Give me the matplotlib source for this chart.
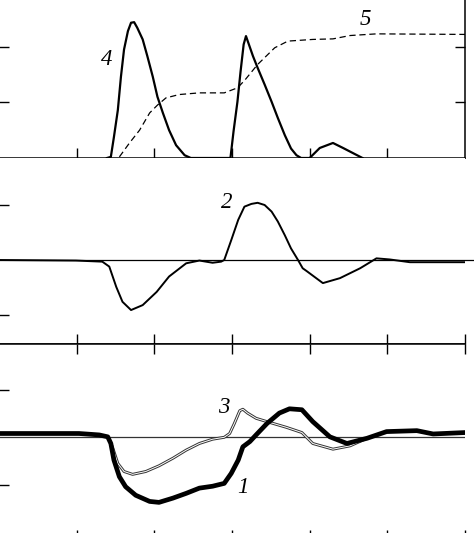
import numpy as np
import matplotlib
matplotlib.use('Agg')
import matplotlib.pyplot as plt

# --- data (x in tick units, y in tick units) ---
# top panel: curve 4 (solid peaks), curve 5 (dashed cumulative)
x4 = [1.39, 1.44, 1.48, 1.53, 1.57, 1.61, 1.66, 1.70, 1.74, 1.78, 1.85, 1.91,
      1.98, 2.04, 2.11, 2.19, 2.28, 2.39, 2.47,
      2.98, 3.02, 3.07, 3.11, 3.15, 3.18, 3.21, 3.27, 3.33, 3.42, 3.51, 3.59,
      3.68, 3.76, 3.83, 3.89,
      4.00, 4.13, 4.30, 4.43, 4.68]
y4 = [0.0, 0.02, 0.38, 0.86, 1.46, 1.95, 2.28, 2.43, 2.44, 2.34, 2.13, 1.83,
      1.46, 1.10, 0.81, 0.50, 0.23, 0.05, 0.0,
      0.0, 0.48, 1.01, 1.55, 2.04, 2.19, 2.07, 1.83, 1.62, 1.32, 1.01, 0.72,
      0.41, 0.17, 0.05, 0.0,
      0.0, 0.18, 0.27, 0.18, 0.0]
x5 = [1.55, 1.68, 1.81, 1.94, 2.04, 2.15, 2.32, 2.58, 2.90, 3.07, 3.16, 3.33,
      3.55, 3.72, 4.04, 4.30, 4.52, 4.86, 6.0]
y5 = [0.02, 0.27, 0.50, 0.81, 0.95, 1.08, 1.14, 1.17, 1.17, 1.26, 1.39, 1.68,
      1.98, 2.10, 2.13, 2.14, 2.20, 2.23, 2.22]

# middle panel: curve 2
x2 = [0, 0.99, 1.33, 1.42, 1.51, 1.59, 1.70, 1.85, 2.03, 2.19, 2.41, 2.58, 2.75,
      2.86, 2.90, 2.99, 3.08, 3.16, 3.25, 3.33, 3.42, 3.51, 3.59, 3.68, 3.76,
      3.85, 3.91, 3.96, 4.17, 4.39, 4.65, 4.86, 5.03, 5.29, 6.0]
y2 = [0, -0.01, -0.03, -0.12, -0.49, -0.76, -0.91, -0.82, -0.58, -0.30, -0.06,
      -0.01, -0.05, -0.03, 0.0, 0.36, 0.73, 0.97, 1.02, 1.04, 1.0, 0.88, 0.70,
      0.45, 0.21, 0.0, -0.15, -0.20, -0.42, -0.33, -0.15, 0.03, 0.01, -0.04,
      -0.04]

# bottom panel: curve 1 (thick), curve 3 (double line)
x1 = [0, 1.03, 1.29, 1.40, 1.44, 1.48, 1.55, 1.63, 1.76, 1.94, 2.06, 2.24, 2.41,
      2.58, 2.75, 2.90, 2.99, 3.08, 3.14, 3.23, 3.31, 3.45, 3.61, 3.74, 3.90,
      4.04, 4.26, 4.48, 4.74, 4.99, 5.38, 5.59, 6.0]
y1 = [0.08, 0.08, 0.05, 0.01, -0.13, -0.48, -0.83, -1.04, -1.22, -1.35, -1.37,
      -1.28, -1.18, -1.07, -1.03, -0.97, -0.76, -0.48, -0.20, -0.09, 0.05, 0.29,
      0.51, 0.60, 0.58, 0.33, 0.01, -0.13, -0.02, 0.12, 0.14, 0.07, 0.10]
x3 = [0, 1.03, 1.29, 1.40, 1.46, 1.53, 1.61, 1.72, 1.89, 2.06, 2.24, 2.41, 2.58,
      2.75, 2.90, 2.97, 3.03, 3.10, 3.14, 3.20, 3.31, 3.45, 3.70, 3.90, 4.04,
      4.30, 4.52, 4.74, 4.99, 5.38, 5.59, 6.0]
y3 = [0.08, 0.08, 0.05, 0.01, -0.20, -0.55, -0.72, -0.78, -0.72, -0.60, -0.44,
      -0.27, -0.13, -0.04, 0.0, 0.08, 0.29, 0.56, 0.59, 0.51, 0.40, 0.33, 0.21,
      0.10, -0.13, -0.25, -0.18, -0.02, 0.12, 0.14, 0.07, 0.10]

xticks = [1, 2, 3, 4, 5, 6]
yticks = [-1, 1]
yticks_top = [1, 2]

W, H = 474, 533
fig = plt.figure(figsize=(W / 100, H / 100), dpi=100)

def frac(left_px, top_px, right_px, bottom_px):
    return [left_px / W, (H - bottom_px) / H, (right_px - left_px) / W,
            (bottom_px - top_px) / H]

label_font = dict(family='Liberation Serif', style='italic', fontsize=16.5)
tick_kw = dict(direction='in', length=7, width=1.0, color='black')

# top panel
ax_top = fig.add_axes(frac(-1, -9, 465, 158))
ax_top.plot(x4, y4, color='black', lw=1.6)
ax_top.plot(x5, y5, color='black', lw=0.9, ls=(0, (5, 3)))
ax_top.set_xlim(0, 6)
ax_top.set_ylim(0, 3)
ax_top.set_xticks(xticks[:-1])
ax_top.set_yticks(yticks_top)
ax_top.tick_params(axis='x', **tick_kw)
ax_top.tick_params(axis='y', left=True, right=True, **tick_kw)
ax_top.spines['top'].set_visible(False)
ax_top.spines['left'].set_visible(False)
ax_top.text(1.39, 1.77, '4', ha='center', va='center', **label_font)
ax_top.text(4.72, 2.49, '5', ha='center', va='center', **label_font)

# middle panel
ax_mid = fig.add_axes(frac(-1, 158, 465, 344))
ax_mid.plot([0, 6.1], [0, 0], color='black', lw=0.9, clip_on=False)
ax_mid.plot(x2, y2, color='black', lw=1.4)
ax_mid.set_xlim(0, 6)
ax_mid.set_ylim(-(344 - 260) / 55, (260 - 158) / 55)
ax_mid.set_xticks(xticks)
ax_mid.set_yticks(yticks)
ax_mid.tick_params(axis='x', **tick_kw)
ax_mid.tick_params(axis='y', **tick_kw)
for s in ['top', 'left', 'right']:
    ax_mid.spines[s].set_visible(False)
ax_mid.text(2.93, 1.05, '2', ha='center', va='center', **label_font)

# bottom panel
ax_bot = fig.add_axes(frac(-1, 344, 465, 540))
ax_bot.plot([0, 6], [0, 0], color='#333333', lw=0.9)
ax_bot.plot(x3, y3, color='#333333', lw=2.1, solid_capstyle='round')
ax_bot.plot(x3, y3, color='white', lw=0.7)
ax_bot.plot(x1, y1, color='black', lw=3.4)
ax_bot.set_xlim(0, 6)
ax_bot.set_ylim(-(540 - 437.3) / 47.5, (437.3 - 344) / 47.5)
ax_bot.set_xticks(xticks)
ax_bot.set_yticks(yticks)
ax_bot.tick_params(axis='x', top=True, bottom=True, **tick_kw)
ax_bot.tick_params(axis='y', **tick_kw)
ax_bot.spines['right'].set_visible(False)
ax_bot.text(2.90, 0.62, '3', ha='center', va='center', **label_font)
ax_bot.text(3.14, -1.05, '1', ha='center', va='center', **label_font)

for ax in (ax_top, ax_mid, ax_bot):
    ax.set_xticklabels([])
    ax.set_yticklabels([])
    for s in ax.spines.values():
        s.set_linewidth(1.1)

fig.savefig('out.png', dpi=100)
